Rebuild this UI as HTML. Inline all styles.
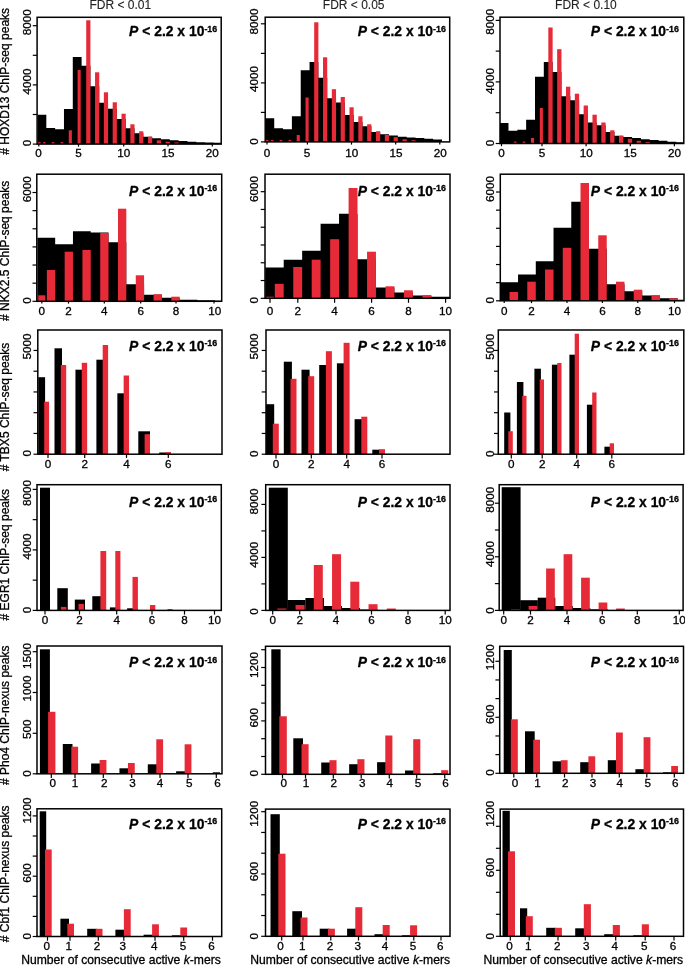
<!DOCTYPE html>
<html><head><meta charset="utf-8"><title>Figure</title>
<style>
html,body{margin:0;padding:0;background:#fff;}
body{width:685px;height:965px;overflow:hidden;}
svg{display:block;font-family:"Liberation Sans",sans-serif;}
text{fill:#000;stroke:#000;stroke-width:0.3px;}
text.ct{fill:#222;stroke:#222;stroke-width:0.1px;}
</style></head><body>
<svg width="685" height="965" viewBox="0 0 685 965">
<rect x="0" y="0" width="685" height="965" fill="#fff"/>
<clipPath id="A1"><rect x="37.10" y="17.30" width="184.10" height="126.80"/></clipPath>
<g clip-path="url(#A1)">
<path d="M37.50,144.10 L37.50,114.70 L46.32,114.70 L46.32,128.00 L55.14,128.00 L55.14,129.30 L63.96,129.30 L63.96,109.00 L72.78,109.00 L72.78,57.00 L81.60,57.00 L81.60,65.80 L90.42,65.80 L90.42,86.30 L99.24,86.30 L99.24,102.70 L108.06,102.70 L108.06,108.70 L116.88,108.70 L116.88,119.00 L125.70,119.00 L125.70,128.30 L134.52,128.30 L134.52,133.30 L143.34,133.30 L143.34,136.70 L152.16,136.70 L152.16,138.30 L160.98,138.30 L160.98,139.30 L169.80,139.30 L169.80,140.30 L178.62,140.30 L178.62,141.00 L187.44,141.00 L187.44,141.70 L196.26,141.70 L196.26,142.20 L205.08,142.20 L205.08,142.50 L213.90,142.50 L213.90,142.80 L222.72,142.80 L222.72,144.10 Z" fill="#000"/>
<rect x="38.10" y="142.10" width="2.50" height="2.00" fill="#d0283a"/>
<rect x="42.92" y="142.10" width="2.60" height="2.00" fill="#d0283a"/>
<rect x="51.74" y="142.10" width="2.60" height="2.00" fill="#d0283a"/>
<rect x="60.56" y="142.10" width="2.60" height="2.00" fill="#d0283a"/>
<rect x="68.78" y="130.30" width="3.10" height="13.80" fill="#e62a37"/>
<rect x="77.60" y="70.00" width="3.10" height="74.10" fill="#e62a37"/>
<rect x="86.22" y="20.30" width="4.20" height="123.80" fill="#e62a37"/>
<rect x="95.04" y="72.30" width="4.20" height="71.80" fill="#e62a37"/>
<rect x="103.86" y="92.30" width="4.20" height="51.80" fill="#e62a37"/>
<rect x="112.68" y="102.30" width="4.20" height="41.80" fill="#e62a37"/>
<rect x="121.50" y="113.70" width="4.20" height="30.40" fill="#e62a37"/>
<rect x="130.32" y="124.30" width="4.20" height="19.80" fill="#e62a37"/>
<rect x="139.14" y="131.30" width="4.20" height="12.80" fill="#e62a37"/>
<rect x="147.96" y="136.70" width="4.20" height="7.40" fill="#e62a37"/>
<rect x="156.78" y="140.30" width="4.20" height="3.80" fill="#e62a37"/>
<rect x="165.60" y="141.70" width="4.20" height="2.40" fill="#e62a37"/>
<rect x="174.42" y="142.50" width="4.20" height="1.60" fill="#e62a37"/>
</g>
<rect x="37.10" y="17.30" width="184.10" height="126.80" fill="none" stroke="#000" stroke-width="1.5"/>
<line x1="32.80" y1="144.10" x2="37.10" y2="144.10" stroke="#000" stroke-width="1.2"/>
<line x1="32.80" y1="114.50" x2="37.10" y2="114.50" stroke="#000" stroke-width="1.2"/>
<line x1="32.80" y1="84.90" x2="37.10" y2="84.90" stroke="#000" stroke-width="1.2"/>
<line x1="32.80" y1="55.30" x2="37.10" y2="55.30" stroke="#000" stroke-width="1.2"/>
<line x1="32.80" y1="25.70" x2="37.10" y2="25.70" stroke="#000" stroke-width="1.2"/>
<text transform="translate(31.00,22.20) rotate(-90)" font-size="11.7" text-anchor="middle" >8000</text>
<text transform="translate(31.00,81.50) rotate(-90)" font-size="11.7" text-anchor="middle" >4000</text>
<text transform="translate(31.00,143.00) rotate(-90)" font-size="11.7" text-anchor="middle" >0</text>
<line x1="38.80" y1="144.10" x2="38.80" y2="146.60" stroke="#000" stroke-width="1.2"/>
<line x1="78.50" y1="144.10" x2="78.50" y2="146.60" stroke="#000" stroke-width="1.2"/>
<line x1="123.70" y1="144.10" x2="123.70" y2="146.60" stroke="#000" stroke-width="1.2"/>
<line x1="168.00" y1="144.10" x2="168.00" y2="146.60" stroke="#000" stroke-width="1.2"/>
<line x1="212.30" y1="144.10" x2="212.30" y2="146.60" stroke="#000" stroke-width="1.2"/>
<text x="38.50" y="156.60" font-size="11.7" text-anchor="middle" >0</text>
<text x="78.50" y="156.60" font-size="11.7" text-anchor="middle" >5</text>
<text x="123.70" y="156.60" font-size="11.7" text-anchor="middle" >10</text>
<text x="168.00" y="156.60" font-size="11.7" text-anchor="middle" >15</text>
<text x="212.30" y="156.60" font-size="11.7" text-anchor="middle" >20</text>
<text x="129.10" y="36.10" font-size="13.9" font-weight="bold" text-anchor="start"><tspan font-style="italic">P</tspan> &lt; 2.2 x 10<tspan font-size="8.9" dy="-4.5">-16</tspan></text>
<clipPath id="A2"><rect x="265.20" y="17.20" width="184.50" height="124.70"/></clipPath>
<g clip-path="url(#A2)">
<path d="M265.40,141.90 L265.40,118.30 L274.23,118.30 L274.23,128.30 L283.06,128.30 L283.06,129.20 L291.89,129.20 L291.89,116.30 L300.72,116.30 L300.72,70.30 L309.55,70.30 L309.55,62.00 L318.38,62.00 L318.38,77.70 L327.21,77.70 L327.21,98.30 L336.04,98.30 L336.04,102.50 L344.87,102.50 L344.87,115.00 L353.70,115.00 L353.70,122.00 L362.53,122.00 L362.53,126.20 L371.36,126.20 L371.36,132.00 L380.19,132.00 L380.19,134.20 L389.02,134.20 L389.02,135.50 L397.85,135.50 L397.85,136.70 L406.68,136.70 L406.68,137.50 L415.51,137.50 L415.51,138.00 L424.34,138.00 L424.34,138.80 L433.17,138.80 L433.17,139.50 L442.00,139.50 L442.00,141.90 Z" fill="#000"/>
<rect x="266.00" y="139.90" width="2.50" height="2.00" fill="#d0283a"/>
<rect x="270.83" y="139.90" width="2.60" height="2.00" fill="#d0283a"/>
<rect x="279.66" y="139.90" width="2.60" height="2.00" fill="#d0283a"/>
<rect x="288.49" y="139.90" width="2.60" height="2.00" fill="#d0283a"/>
<rect x="296.72" y="135.00" width="3.10" height="6.90" fill="#e62a37"/>
<rect x="305.55" y="97.50" width="3.10" height="44.40" fill="#e62a37"/>
<rect x="314.18" y="22.30" width="4.20" height="119.60" fill="#e62a37"/>
<rect x="323.01" y="57.30" width="4.20" height="84.60" fill="#e62a37"/>
<rect x="331.84" y="89.20" width="4.20" height="52.70" fill="#e62a37"/>
<rect x="340.67" y="97.00" width="4.20" height="44.90" fill="#e62a37"/>
<rect x="349.50" y="107.30" width="4.20" height="34.60" fill="#e62a37"/>
<rect x="358.33" y="116.30" width="4.20" height="25.60" fill="#e62a37"/>
<rect x="367.16" y="124.30" width="4.20" height="17.60" fill="#e62a37"/>
<rect x="375.99" y="131.20" width="4.20" height="10.70" fill="#e62a37"/>
<rect x="384.82" y="135.00" width="4.20" height="6.90" fill="#e62a37"/>
<rect x="393.65" y="137.20" width="4.20" height="4.70" fill="#e62a37"/>
<rect x="402.48" y="139.30" width="4.20" height="2.60" fill="#e62a37"/>
<rect x="411.31" y="140.30" width="4.20" height="1.60" fill="#e62a37"/>
</g>
<rect x="265.20" y="17.20" width="184.50" height="124.70" fill="none" stroke="#000" stroke-width="1.5"/>
<line x1="260.90" y1="141.90" x2="265.20" y2="141.90" stroke="#000" stroke-width="1.2"/>
<line x1="260.90" y1="112.40" x2="265.20" y2="112.40" stroke="#000" stroke-width="1.2"/>
<line x1="260.90" y1="82.90" x2="265.20" y2="82.90" stroke="#000" stroke-width="1.2"/>
<line x1="260.90" y1="53.40" x2="265.20" y2="53.40" stroke="#000" stroke-width="1.2"/>
<line x1="260.90" y1="23.80" x2="265.20" y2="23.80" stroke="#000" stroke-width="1.2"/>
<text transform="translate(258.00,21.60) rotate(-90)" font-size="11.7" text-anchor="middle" >8000</text>
<text transform="translate(258.00,79.00) rotate(-90)" font-size="11.7" text-anchor="middle" >4000</text>
<text transform="translate(258.00,141.50) rotate(-90)" font-size="11.7" text-anchor="middle" >0</text>
<line x1="267.00" y1="141.90" x2="267.00" y2="144.60" stroke="#000" stroke-width="1.2"/>
<line x1="307.40" y1="141.90" x2="307.40" y2="144.60" stroke="#000" stroke-width="1.2"/>
<line x1="351.50" y1="141.90" x2="351.50" y2="144.60" stroke="#000" stroke-width="1.2"/>
<line x1="395.70" y1="141.90" x2="395.70" y2="144.60" stroke="#000" stroke-width="1.2"/>
<line x1="439.80" y1="141.90" x2="439.80" y2="144.60" stroke="#000" stroke-width="1.2"/>
<text x="267.00" y="156.60" font-size="11.7" text-anchor="middle" >0</text>
<text x="307.00" y="156.60" font-size="11.7" text-anchor="middle" >5</text>
<text x="351.80" y="156.60" font-size="11.7" text-anchor="middle" >10</text>
<text x="396.00" y="156.60" font-size="11.7" text-anchor="middle" >15</text>
<text x="440.30" y="156.60" font-size="11.7" text-anchor="middle" >20</text>
<text x="357.70" y="36.10" font-size="13.9" font-weight="bold" text-anchor="start"><tspan font-style="italic">P</tspan> &lt; 2.2 x 10<tspan font-size="8.9" dy="-4.5">-16</tspan></text>
<clipPath id="A3"><rect x="500.00" y="17.20" width="183.80" height="126.30"/></clipPath>
<g clip-path="url(#A3)">
<path d="M499.65,143.50 L499.65,123.00 L508.48,123.00 L508.48,130.80 L517.31,130.80 L517.31,129.70 L526.14,129.70 L526.14,119.70 L534.97,119.70 L534.97,76.70 L543.80,76.70 L543.80,62.00 L552.63,62.00 L552.63,72.00 L561.46,72.00 L561.46,96.30 L570.29,96.30 L570.29,100.30 L579.12,100.30 L579.12,114.20 L587.95,114.20 L587.95,122.50 L596.78,122.50 L596.78,125.30 L605.61,125.30 L605.61,132.00 L614.44,132.00 L614.44,135.80 L623.27,135.80 L623.27,137.00 L632.10,137.00 L632.10,138.00 L640.93,138.00 L640.93,139.20 L649.76,139.20 L649.76,140.00 L658.59,140.00 L658.59,140.80 L667.42,140.80 L667.42,141.70 L676.25,141.70 L676.25,142.30 L685.08,142.30 L685.08,143.50 Z" fill="#000"/>
<rect x="513.91" y="141.50" width="2.60" height="2.00" fill="#d0283a"/>
<rect x="522.74" y="141.50" width="2.60" height="2.00" fill="#d0283a"/>
<rect x="530.97" y="138.00" width="3.10" height="5.50" fill="#e62a37"/>
<rect x="539.80" y="108.00" width="3.10" height="35.50" fill="#e62a37"/>
<rect x="548.33" y="27.50" width="4.30" height="116.00" fill="#e62a37"/>
<rect x="557.16" y="49.20" width="4.30" height="94.30" fill="#e62a37"/>
<rect x="565.99" y="86.70" width="4.30" height="56.80" fill="#e62a37"/>
<rect x="574.82" y="93.70" width="4.30" height="49.80" fill="#e62a37"/>
<rect x="583.65" y="105.50" width="4.30" height="38.00" fill="#e62a37"/>
<rect x="592.48" y="114.70" width="4.30" height="28.80" fill="#e62a37"/>
<rect x="601.31" y="122.50" width="4.30" height="21.00" fill="#e62a37"/>
<rect x="610.14" y="130.30" width="4.30" height="13.20" fill="#e62a37"/>
<rect x="618.97" y="135.80" width="4.30" height="7.70" fill="#e62a37"/>
<rect x="627.80" y="138.80" width="4.30" height="4.70" fill="#e62a37"/>
<rect x="636.63" y="140.80" width="4.30" height="2.70" fill="#e62a37"/>
<rect x="645.46" y="142.00" width="4.30" height="1.50" fill="#e62a37"/>
</g>
<rect x="500.00" y="17.20" width="183.80" height="126.30" fill="none" stroke="#000" stroke-width="1.5"/>
<line x1="495.70" y1="143.50" x2="500.00" y2="143.50" stroke="#000" stroke-width="1.2"/>
<line x1="495.70" y1="112.70" x2="500.00" y2="112.70" stroke="#000" stroke-width="1.2"/>
<line x1="495.70" y1="81.90" x2="500.00" y2="81.90" stroke="#000" stroke-width="1.2"/>
<line x1="495.70" y1="51.10" x2="500.00" y2="51.10" stroke="#000" stroke-width="1.2"/>
<line x1="495.70" y1="20.40" x2="500.00" y2="20.40" stroke="#000" stroke-width="1.2"/>
<text transform="translate(493.80,21.80) rotate(-90)" font-size="11.7" text-anchor="middle" >8000</text>
<text transform="translate(493.80,81.10) rotate(-90)" font-size="11.7" text-anchor="middle" >4000</text>
<text transform="translate(493.80,142.90) rotate(-90)" font-size="11.7" text-anchor="middle" >0</text>
<line x1="501.50" y1="143.50" x2="501.50" y2="146.20" stroke="#000" stroke-width="1.2"/>
<line x1="542.00" y1="143.50" x2="542.00" y2="146.20" stroke="#000" stroke-width="1.2"/>
<line x1="586.10" y1="143.50" x2="586.10" y2="146.20" stroke="#000" stroke-width="1.2"/>
<line x1="630.30" y1="143.50" x2="630.30" y2="146.20" stroke="#000" stroke-width="1.2"/>
<line x1="674.40" y1="143.50" x2="674.40" y2="146.20" stroke="#000" stroke-width="1.2"/>
<text x="501.50" y="156.60" font-size="11.7" text-anchor="middle" >0</text>
<text x="542.00" y="156.60" font-size="11.7" text-anchor="middle" >5</text>
<text x="586.20" y="156.60" font-size="11.7" text-anchor="middle" >10</text>
<text x="630.30" y="156.60" font-size="11.7" text-anchor="middle" >15</text>
<text x="674.40" y="156.60" font-size="11.7" text-anchor="middle" >20</text>
<text x="590.80" y="36.10" font-size="13.9" font-weight="bold" text-anchor="start"><tspan font-style="italic">P</tspan> &lt; 2.2 x 10<tspan font-size="8.9" dy="-4.5">-16</tspan></text>
<text x="120.30" y="9.00" font-size="12.0" text-anchor="middle" class="ct">FDR &lt; 0.01</text>
<text x="353.70" y="9.00" font-size="12.0" text-anchor="middle" class="ct">FDR &lt; 0.05</text>
<text x="585.90" y="9.00" font-size="12.0" text-anchor="middle" class="ct">FDR &lt; 0.10</text>
<clipPath id="B1"><rect x="36.80" y="174.20" width="184.90" height="127.10"/></clipPath>
<g clip-path="url(#B1)">
<path d="M37.40,301.30 L37.40,237.80 L55.18,237.80 L55.18,244.20 L72.96,244.20 L72.96,231.20 L90.74,231.20 L90.74,232.50 L108.52,232.50 L108.52,242.20 L126.30,242.20 L126.30,284.30 L144.08,284.30 L144.08,294.70 L161.86,294.70 L161.86,297.80 L179.64,297.80 L179.64,299.70 L197.42,299.70 L197.42,300.30 L215.20,300.30 L215.20,300.80 L232.98,300.80 L232.98,301.30 Z" fill="#000"/>
<rect x="38.30" y="295.30" width="7.00" height="6.00" fill="#e62a37"/>
<rect x="46.88" y="270.00" width="8.30" height="31.30" fill="#e62a37"/>
<rect x="64.66" y="251.70" width="8.30" height="49.60" fill="#e62a37"/>
<rect x="82.44" y="250.00" width="8.30" height="51.30" fill="#e62a37"/>
<rect x="100.22" y="233.00" width="8.30" height="68.30" fill="#e62a37"/>
<rect x="118.00" y="208.70" width="8.30" height="92.60" fill="#e62a37"/>
<rect x="135.78" y="275.30" width="8.30" height="26.00" fill="#e62a37"/>
<rect x="153.56" y="294.20" width="8.30" height="7.10" fill="#e62a37"/>
<rect x="171.34" y="296.70" width="8.30" height="4.60" fill="#e62a37"/>
</g>
<rect x="36.80" y="174.20" width="184.90" height="127.10" fill="none" stroke="#000" stroke-width="1.5"/>
<line x1="32.50" y1="301.30" x2="36.80" y2="301.30" stroke="#000" stroke-width="1.2"/>
<line x1="32.50" y1="283.17" x2="36.80" y2="283.17" stroke="#000" stroke-width="1.2"/>
<line x1="32.50" y1="265.04" x2="36.80" y2="265.04" stroke="#000" stroke-width="1.2"/>
<line x1="32.50" y1="246.91" x2="36.80" y2="246.91" stroke="#000" stroke-width="1.2"/>
<line x1="32.50" y1="228.78" x2="36.80" y2="228.78" stroke="#000" stroke-width="1.2"/>
<line x1="32.50" y1="210.65" x2="36.80" y2="210.65" stroke="#000" stroke-width="1.2"/>
<line x1="32.50" y1="192.52" x2="36.80" y2="192.52" stroke="#000" stroke-width="1.2"/>
<text transform="translate(31.00,189.20) rotate(-90)" font-size="11.7" text-anchor="middle" >6000</text>
<text transform="translate(31.00,300.60) rotate(-90)" font-size="11.7" text-anchor="middle" >0</text>
<line x1="41.80" y1="301.30" x2="41.80" y2="303.60" stroke="#000" stroke-width="1.2"/>
<line x1="68.50" y1="301.30" x2="68.50" y2="303.60" stroke="#000" stroke-width="1.2"/>
<line x1="104.30" y1="301.30" x2="104.30" y2="303.60" stroke="#000" stroke-width="1.2"/>
<line x1="140.70" y1="301.30" x2="140.70" y2="303.60" stroke="#000" stroke-width="1.2"/>
<line x1="176.00" y1="301.30" x2="176.00" y2="303.60" stroke="#000" stroke-width="1.2"/>
<line x1="214.00" y1="301.30" x2="214.00" y2="303.60" stroke="#000" stroke-width="1.2"/>
<text x="41.80" y="315.20" font-size="11.7" text-anchor="middle" >0</text>
<text x="68.50" y="315.20" font-size="11.7" text-anchor="middle" >2</text>
<text x="104.30" y="315.20" font-size="11.7" text-anchor="middle" >4</text>
<text x="140.70" y="315.20" font-size="11.7" text-anchor="middle" >6</text>
<text x="176.00" y="315.20" font-size="11.7" text-anchor="middle" >8</text>
<text x="214.70" y="315.20" font-size="11.7" text-anchor="middle" >10</text>
<text x="129.10" y="195.60" font-size="13.9" font-weight="bold" text-anchor="start"><tspan font-style="italic">P</tspan> &lt; 2.2 x 10<tspan font-size="8.9" dy="-4.5">-16</tspan></text>
<clipPath id="B2"><rect x="265.00" y="174.20" width="185.00" height="124.10"/></clipPath>
<g clip-path="url(#B2)">
<path d="M265.25,298.30 L265.25,267.50 L283.70,267.50 L283.70,259.70 L302.15,259.70 L302.15,250.80 L320.60,250.80 L320.60,223.80 L339.05,223.80 L339.05,213.80 L357.50,213.80 L357.50,259.20 L375.95,259.20 L375.95,287.50 L394.40,287.50 L394.40,292.50 L412.85,292.50 L412.85,295.50 L431.30,295.50 L431.30,296.70 L449.75,296.70 L449.75,298.30 Z" fill="#000"/>
<rect x="266.30" y="296.70" width="7.50" height="1.60" fill="#e62a37"/>
<rect x="274.80" y="283.80" width="8.90" height="14.50" fill="#e62a37"/>
<rect x="293.25" y="267.00" width="8.90" height="31.30" fill="#e62a37"/>
<rect x="311.70" y="259.70" width="8.90" height="38.60" fill="#e62a37"/>
<rect x="330.15" y="239.20" width="8.90" height="59.10" fill="#e62a37"/>
<rect x="348.60" y="188.00" width="8.90" height="110.30" fill="#e62a37"/>
<rect x="367.05" y="251.70" width="8.90" height="46.60" fill="#e62a37"/>
<rect x="385.50" y="286.30" width="8.90" height="12.00" fill="#e62a37"/>
<rect x="403.95" y="290.30" width="8.90" height="8.00" fill="#e62a37"/>
<rect x="422.40" y="295.30" width="8.90" height="3.00" fill="#e62a37"/>
</g>
<rect x="265.00" y="174.20" width="185.00" height="124.10" fill="none" stroke="#000" stroke-width="1.5"/>
<line x1="260.70" y1="298.30" x2="265.00" y2="298.30" stroke="#000" stroke-width="1.2"/>
<line x1="260.70" y1="280.53" x2="265.00" y2="280.53" stroke="#000" stroke-width="1.2"/>
<line x1="260.70" y1="262.76" x2="265.00" y2="262.76" stroke="#000" stroke-width="1.2"/>
<line x1="260.70" y1="244.99" x2="265.00" y2="244.99" stroke="#000" stroke-width="1.2"/>
<line x1="260.70" y1="227.22" x2="265.00" y2="227.22" stroke="#000" stroke-width="1.2"/>
<line x1="260.70" y1="209.45" x2="265.00" y2="209.45" stroke="#000" stroke-width="1.2"/>
<line x1="260.70" y1="191.68" x2="265.00" y2="191.68" stroke="#000" stroke-width="1.2"/>
<text transform="translate(258.00,189.00) rotate(-90)" font-size="11.7" text-anchor="middle" >6000</text>
<text transform="translate(258.00,300.30) rotate(-90)" font-size="11.7" text-anchor="middle" >0</text>
<line x1="270.00" y1="298.30" x2="270.00" y2="302.80" stroke="#000" stroke-width="1.2"/>
<line x1="297.80" y1="298.30" x2="297.80" y2="302.80" stroke="#000" stroke-width="1.2"/>
<line x1="334.60" y1="298.30" x2="334.60" y2="302.80" stroke="#000" stroke-width="1.2"/>
<line x1="371.60" y1="298.30" x2="371.60" y2="302.80" stroke="#000" stroke-width="1.2"/>
<line x1="408.50" y1="298.30" x2="408.50" y2="302.80" stroke="#000" stroke-width="1.2"/>
<line x1="445.60" y1="298.30" x2="445.60" y2="302.80" stroke="#000" stroke-width="1.2"/>
<text x="270.00" y="315.20" font-size="11.7" text-anchor="middle" >0</text>
<text x="297.80" y="315.20" font-size="11.7" text-anchor="middle" >2</text>
<text x="334.60" y="315.20" font-size="11.7" text-anchor="middle" >4</text>
<text x="371.60" y="315.20" font-size="11.7" text-anchor="middle" >6</text>
<text x="408.50" y="315.20" font-size="11.7" text-anchor="middle" >8</text>
<text x="445.60" y="315.20" font-size="11.7" text-anchor="middle" >10</text>
<text x="357.70" y="195.60" font-size="13.9" font-weight="bold" text-anchor="start"><tspan font-style="italic">P</tspan> &lt; 2.2 x 10<tspan font-size="8.9" dy="-4.5">-16</tspan></text>
<clipPath id="B3"><rect x="500.30" y="174.20" width="183.70" height="126.60"/></clipPath>
<g clip-path="url(#B3)">
<path d="M500.30,300.80 L500.30,282.20 L518.04,282.20 L518.04,274.50 L535.78,274.50 L535.78,261.30 L553.52,261.30 L553.52,227.80 L571.26,227.80 L571.26,201.70 L589.00,201.70 L589.00,248.80 L606.74,248.80 L606.74,284.20 L624.48,284.20 L624.48,291.20 L642.22,291.20 L642.22,295.50 L659.96,295.50 L659.96,298.30 L677.70,298.30 L677.70,299.70 L695.44,299.70 L695.44,300.80 Z" fill="#000"/>
<rect x="509.54" y="292.00" width="8.50" height="8.80" fill="#e62a37"/>
<rect x="527.28" y="281.70" width="8.50" height="19.10" fill="#e62a37"/>
<rect x="545.02" y="269.50" width="8.50" height="31.30" fill="#e62a37"/>
<rect x="562.76" y="247.80" width="8.50" height="53.00" fill="#e62a37"/>
<rect x="580.50" y="183.00" width="8.50" height="117.80" fill="#e62a37"/>
<rect x="598.24" y="235.30" width="8.50" height="65.50" fill="#e62a37"/>
<rect x="615.98" y="281.70" width="8.50" height="19.10" fill="#e62a37"/>
<rect x="633.72" y="289.70" width="8.50" height="11.10" fill="#e62a37"/>
<rect x="651.46" y="295.30" width="8.50" height="5.50" fill="#e62a37"/>
<rect x="669.20" y="298.30" width="8.50" height="2.50" fill="#e62a37"/>
</g>
<rect x="500.30" y="174.20" width="183.70" height="126.60" fill="none" stroke="#000" stroke-width="1.5"/>
<line x1="496.00" y1="300.80" x2="500.30" y2="300.80" stroke="#000" stroke-width="1.2"/>
<line x1="496.00" y1="282.67" x2="500.30" y2="282.67" stroke="#000" stroke-width="1.2"/>
<line x1="496.00" y1="264.54" x2="500.30" y2="264.54" stroke="#000" stroke-width="1.2"/>
<line x1="496.00" y1="246.41" x2="500.30" y2="246.41" stroke="#000" stroke-width="1.2"/>
<line x1="496.00" y1="228.28" x2="500.30" y2="228.28" stroke="#000" stroke-width="1.2"/>
<line x1="496.00" y1="210.15" x2="500.30" y2="210.15" stroke="#000" stroke-width="1.2"/>
<line x1="496.00" y1="192.02" x2="500.30" y2="192.02" stroke="#000" stroke-width="1.2"/>
<text transform="translate(493.80,189.00) rotate(-90)" font-size="11.7" text-anchor="middle" >6000</text>
<text transform="translate(493.80,300.30) rotate(-90)" font-size="11.7" text-anchor="middle" >0</text>
<line x1="504.20" y1="300.80" x2="504.20" y2="303.10" stroke="#000" stroke-width="1.2"/>
<line x1="531.50" y1="300.80" x2="531.50" y2="303.10" stroke="#000" stroke-width="1.2"/>
<line x1="567.00" y1="300.80" x2="567.00" y2="303.10" stroke="#000" stroke-width="1.2"/>
<line x1="602.40" y1="300.80" x2="602.40" y2="303.10" stroke="#000" stroke-width="1.2"/>
<line x1="637.80" y1="300.80" x2="637.80" y2="303.10" stroke="#000" stroke-width="1.2"/>
<line x1="674.50" y1="300.80" x2="674.50" y2="303.10" stroke="#000" stroke-width="1.2"/>
<text x="504.20" y="315.20" font-size="11.7" text-anchor="middle" >0</text>
<text x="531.50" y="315.20" font-size="11.7" text-anchor="middle" >2</text>
<text x="567.00" y="315.20" font-size="11.7" text-anchor="middle" >4</text>
<text x="602.40" y="315.20" font-size="11.7" text-anchor="middle" >6</text>
<text x="637.80" y="315.20" font-size="11.7" text-anchor="middle" >8</text>
<text x="674.50" y="315.20" font-size="11.7" text-anchor="middle" >10</text>
<text x="590.80" y="195.60" font-size="13.9" font-weight="bold" text-anchor="start"><tspan font-style="italic">P</tspan> &lt; 2.2 x 10<tspan font-size="8.9" dy="-4.5">-16</tspan></text>
<clipPath id="C1"><rect x="37.80" y="330.00" width="184.20" height="124.20"/></clipPath>
<g clip-path="url(#C1)">
<rect x="38.30" y="377.20" width="6.80" height="77.00" fill="#000"/>
<rect x="54.50" y="348.30" width="7.50" height="105.90" fill="#000"/>
<rect x="75.45" y="369.70" width="7.50" height="84.50" fill="#000"/>
<rect x="96.40" y="359.70" width="7.50" height="94.50" fill="#000"/>
<rect x="117.35" y="393.30" width="7.50" height="60.90" fill="#000"/>
<rect x="138.30" y="431.30" width="11.70" height="22.90" fill="#000"/>
<rect x="159.25" y="452.50" width="11.70" height="1.70" fill="#000"/>
<rect x="44.20" y="401.70" width="4.90" height="52.50" fill="#e62a37"/>
<rect x="60.80" y="365.00" width="5.40" height="89.20" fill="#e62a37"/>
<rect x="81.75" y="362.80" width="5.40" height="91.40" fill="#e62a37"/>
<rect x="102.70" y="345.00" width="5.40" height="109.20" fill="#e62a37"/>
<rect x="123.65" y="375.50" width="5.40" height="78.70" fill="#e62a37"/>
<rect x="144.60" y="434.20" width="5.40" height="20.00" fill="#e62a37"/>
<rect x="165.55" y="452.20" width="5.40" height="2.00" fill="#e62a37"/>
</g>
<rect x="37.80" y="330.00" width="184.20" height="124.20" fill="none" stroke="#000" stroke-width="1.5"/>
<line x1="33.50" y1="454.20" x2="37.80" y2="454.20" stroke="#000" stroke-width="1.2"/>
<line x1="33.50" y1="433.45" x2="37.80" y2="433.45" stroke="#000" stroke-width="1.2"/>
<line x1="33.50" y1="412.70" x2="37.80" y2="412.70" stroke="#000" stroke-width="1.2"/>
<line x1="33.50" y1="391.95" x2="37.80" y2="391.95" stroke="#000" stroke-width="1.2"/>
<line x1="33.50" y1="371.20" x2="37.80" y2="371.20" stroke="#000" stroke-width="1.2"/>
<line x1="33.50" y1="350.45" x2="37.80" y2="350.45" stroke="#000" stroke-width="1.2"/>
<text transform="translate(31.00,346.40) rotate(-90)" font-size="11.7" text-anchor="middle" >5000</text>
<text transform="translate(31.00,453.30) rotate(-90)" font-size="11.7" text-anchor="middle" >0</text>
<line x1="48.00" y1="454.20" x2="48.00" y2="457.90" stroke="#000" stroke-width="1.2"/>
<line x1="84.70" y1="454.20" x2="84.70" y2="457.90" stroke="#000" stroke-width="1.2"/>
<line x1="126.50" y1="454.20" x2="126.50" y2="457.90" stroke="#000" stroke-width="1.2"/>
<line x1="168.30" y1="454.20" x2="168.30" y2="457.90" stroke="#000" stroke-width="1.2"/>
<text x="48.00" y="468.00" font-size="11.7" text-anchor="middle" >0</text>
<text x="84.70" y="468.00" font-size="11.7" text-anchor="middle" >2</text>
<text x="126.50" y="468.00" font-size="11.7" text-anchor="middle" >4</text>
<text x="168.30" y="468.00" font-size="11.7" text-anchor="middle" >6</text>
<text x="129.10" y="350.80" font-size="13.9" font-weight="bold" text-anchor="start"><tspan font-style="italic">P</tspan> &lt; 2.2 x 10<tspan font-size="8.9" dy="-4.5">-16</tspan></text>
<clipPath id="C2"><rect x="266.00" y="330.00" width="184.00" height="124.20"/></clipPath>
<g clip-path="url(#C2)">
<rect x="266.10" y="404.20" width="8.10" height="50.00" fill="#000"/>
<rect x="283.80" y="361.70" width="8.10" height="92.50" fill="#000"/>
<rect x="301.50" y="369.70" width="8.10" height="84.50" fill="#000"/>
<rect x="319.20" y="365.00" width="8.10" height="89.20" fill="#000"/>
<rect x="336.90" y="363.30" width="8.10" height="90.90" fill="#000"/>
<rect x="354.60" y="419.20" width="8.10" height="35.00" fill="#000"/>
<rect x="372.30" y="449.70" width="8.10" height="4.50" fill="#000"/>
<rect x="272.80" y="423.70" width="6.00" height="30.50" fill="#e62a37"/>
<rect x="290.50" y="378.80" width="6.00" height="75.40" fill="#e62a37"/>
<rect x="308.20" y="376.20" width="6.00" height="78.00" fill="#e62a37"/>
<rect x="325.90" y="351.20" width="6.00" height="103.00" fill="#e62a37"/>
<rect x="343.60" y="342.80" width="6.00" height="111.40" fill="#e62a37"/>
<rect x="361.30" y="416.70" width="6.00" height="37.50" fill="#e62a37"/>
<rect x="379.00" y="449.20" width="6.00" height="5.00" fill="#e62a37"/>
</g>
<rect x="266.00" y="330.00" width="184.00" height="124.20" fill="none" stroke="#000" stroke-width="1.5"/>
<line x1="261.70" y1="454.20" x2="266.00" y2="454.20" stroke="#000" stroke-width="1.2"/>
<line x1="261.70" y1="433.45" x2="266.00" y2="433.45" stroke="#000" stroke-width="1.2"/>
<line x1="261.70" y1="412.70" x2="266.00" y2="412.70" stroke="#000" stroke-width="1.2"/>
<line x1="261.70" y1="391.95" x2="266.00" y2="391.95" stroke="#000" stroke-width="1.2"/>
<line x1="261.70" y1="371.20" x2="266.00" y2="371.20" stroke="#000" stroke-width="1.2"/>
<line x1="261.70" y1="350.45" x2="266.00" y2="350.45" stroke="#000" stroke-width="1.2"/>
<text transform="translate(258.00,346.50) rotate(-90)" font-size="11.7" text-anchor="middle" >5000</text>
<text transform="translate(258.00,453.70) rotate(-90)" font-size="11.7" text-anchor="middle" >0</text>
<line x1="276.00" y1="454.20" x2="276.00" y2="458.40" stroke="#000" stroke-width="1.2"/>
<line x1="311.30" y1="454.20" x2="311.30" y2="458.40" stroke="#000" stroke-width="1.2"/>
<line x1="346.70" y1="454.20" x2="346.70" y2="458.40" stroke="#000" stroke-width="1.2"/>
<line x1="382.00" y1="454.20" x2="382.00" y2="458.40" stroke="#000" stroke-width="1.2"/>
<text x="276.00" y="468.00" font-size="11.7" text-anchor="middle" >0</text>
<text x="311.30" y="468.00" font-size="11.7" text-anchor="middle" >2</text>
<text x="346.70" y="468.00" font-size="11.7" text-anchor="middle" >4</text>
<text x="382.00" y="468.00" font-size="11.7" text-anchor="middle" >6</text>
<text x="357.70" y="350.80" font-size="13.9" font-weight="bold" text-anchor="start"><tspan font-style="italic">P</tspan> &lt; 2.2 x 10<tspan font-size="8.9" dy="-4.5">-16</tspan></text>
<clipPath id="C3"><rect x="498.30" y="330.00" width="185.50" height="124.20"/></clipPath>
<g clip-path="url(#C3)">
<rect x="504.20" y="412.50" width="6.20" height="41.70" fill="#000"/>
<rect x="516.90" y="382.00" width="6.50" height="72.20" fill="#000"/>
<rect x="534.40" y="368.70" width="6.50" height="85.50" fill="#000"/>
<rect x="551.90" y="364.70" width="6.50" height="89.50" fill="#000"/>
<rect x="569.40" y="354.70" width="6.50" height="99.50" fill="#000"/>
<rect x="586.90" y="404.70" width="6.50" height="49.50" fill="#000"/>
<rect x="604.40" y="446.70" width="6.50" height="7.50" fill="#000"/>
<rect x="508.30" y="431.20" width="4.50" height="23.00" fill="#e62a37"/>
<rect x="522.20" y="395.80" width="4.30" height="58.40" fill="#e62a37"/>
<rect x="539.70" y="379.50" width="4.30" height="74.70" fill="#e62a37"/>
<rect x="557.20" y="363.00" width="4.30" height="91.20" fill="#e62a37"/>
<rect x="574.70" y="333.70" width="4.30" height="120.50" fill="#e62a37"/>
<rect x="592.20" y="392.50" width="4.30" height="61.70" fill="#e62a37"/>
<rect x="609.70" y="443.30" width="4.30" height="10.90" fill="#e62a37"/>
</g>
<rect x="498.30" y="330.00" width="185.50" height="124.20" fill="none" stroke="#000" stroke-width="1.5"/>
<line x1="494.00" y1="454.20" x2="498.30" y2="454.20" stroke="#000" stroke-width="1.2"/>
<line x1="494.00" y1="433.45" x2="498.30" y2="433.45" stroke="#000" stroke-width="1.2"/>
<line x1="494.00" y1="412.70" x2="498.30" y2="412.70" stroke="#000" stroke-width="1.2"/>
<line x1="494.00" y1="391.95" x2="498.30" y2="391.95" stroke="#000" stroke-width="1.2"/>
<line x1="494.00" y1="371.20" x2="498.30" y2="371.20" stroke="#000" stroke-width="1.2"/>
<line x1="494.00" y1="350.45" x2="498.30" y2="350.45" stroke="#000" stroke-width="1.2"/>
<text transform="translate(494.00,346.80) rotate(-90)" font-size="11.7" text-anchor="middle" >5000</text>
<text transform="translate(494.00,453.70) rotate(-90)" font-size="11.7" text-anchor="middle" >0</text>
<line x1="511.30" y1="454.20" x2="511.30" y2="458.40" stroke="#000" stroke-width="1.2"/>
<line x1="542.20" y1="454.20" x2="542.20" y2="458.40" stroke="#000" stroke-width="1.2"/>
<line x1="576.70" y1="454.20" x2="576.70" y2="458.40" stroke="#000" stroke-width="1.2"/>
<line x1="611.80" y1="454.20" x2="611.80" y2="458.40" stroke="#000" stroke-width="1.2"/>
<text x="511.30" y="468.00" font-size="11.7" text-anchor="middle" >0</text>
<text x="542.20" y="468.00" font-size="11.7" text-anchor="middle" >2</text>
<text x="576.70" y="468.00" font-size="11.7" text-anchor="middle" >4</text>
<text x="611.80" y="468.00" font-size="11.7" text-anchor="middle" >6</text>
<text x="590.80" y="350.80" font-size="13.9" font-weight="bold" text-anchor="start"><tspan font-style="italic">P</tspan> &lt; 2.2 x 10<tspan font-size="8.9" dy="-4.5">-16</tspan></text>
<clipPath id="D1"><rect x="37.00" y="484.70" width="184.30" height="125.70"/></clipPath>
<g clip-path="url(#D1)">
<rect x="40.00" y="487.70" width="10.00" height="122.70" fill="#000"/>
<rect x="57.30" y="588.20" width="10.50" height="22.20" fill="#000"/>
<rect x="74.80" y="599.60" width="10.20" height="10.80" fill="#000"/>
<rect x="92.30" y="596.20" width="10.20" height="14.20" fill="#000"/>
<rect x="109.90" y="607.40" width="10.10" height="3.00" fill="#000"/>
<rect x="127.10" y="608.30" width="10.40" height="2.10" fill="#000"/>
<rect x="60.90" y="606.90" width="5.50" height="3.50" fill="#e62a37"/>
<rect x="78.50" y="603.90" width="5.40" height="6.50" fill="#e62a37"/>
<rect x="100.40" y="551.00" width="5.80" height="59.40" fill="#e62a37"/>
<rect x="115.30" y="551.00" width="5.10" height="59.40" fill="#e62a37"/>
<rect x="132.50" y="576.90" width="5.40" height="33.50" fill="#e62a37"/>
<rect x="150.00" y="605.00" width="5.30" height="5.40" fill="#e62a37"/>
<rect x="167.50" y="609.00" width="5.00" height="1.40" fill="#e62a37"/>
</g>
<rect x="37.00" y="484.70" width="184.30" height="125.70" fill="none" stroke="#000" stroke-width="1.5"/>
<line x1="32.70" y1="610.40" x2="37.00" y2="610.40" stroke="#000" stroke-width="1.2"/>
<line x1="32.70" y1="580.15" x2="37.00" y2="580.15" stroke="#000" stroke-width="1.2"/>
<line x1="32.70" y1="549.90" x2="37.00" y2="549.90" stroke="#000" stroke-width="1.2"/>
<line x1="32.70" y1="519.65" x2="37.00" y2="519.65" stroke="#000" stroke-width="1.2"/>
<line x1="32.70" y1="489.40" x2="37.00" y2="489.40" stroke="#000" stroke-width="1.2"/>
<text transform="translate(31.00,493.00) rotate(-90)" font-size="11.7" text-anchor="middle" >8000</text>
<text transform="translate(31.00,546.40) rotate(-90)" font-size="11.7" text-anchor="middle" >4000</text>
<text transform="translate(31.00,610.00) rotate(-90)" font-size="11.7" text-anchor="middle" >0</text>
<line x1="45.00" y1="610.40" x2="45.00" y2="614.60" stroke="#000" stroke-width="1.2"/>
<line x1="79.50" y1="610.40" x2="79.50" y2="614.60" stroke="#000" stroke-width="1.2"/>
<line x1="116.70" y1="610.40" x2="116.70" y2="614.60" stroke="#000" stroke-width="1.2"/>
<line x1="152.00" y1="610.40" x2="152.00" y2="614.60" stroke="#000" stroke-width="1.2"/>
<line x1="184.50" y1="610.40" x2="184.50" y2="614.60" stroke="#000" stroke-width="1.2"/>
<line x1="214.50" y1="610.40" x2="214.50" y2="614.60" stroke="#000" stroke-width="1.2"/>
<text x="45.00" y="624.30" font-size="11.7" text-anchor="middle" >0</text>
<text x="79.50" y="624.30" font-size="11.7" text-anchor="middle" >2</text>
<text x="116.70" y="624.30" font-size="11.7" text-anchor="middle" >4</text>
<text x="152.00" y="624.30" font-size="11.7" text-anchor="middle" >6</text>
<text x="184.50" y="624.30" font-size="11.7" text-anchor="middle" >8</text>
<text x="214.50" y="624.30" font-size="11.7" text-anchor="middle" >10</text>
<text x="129.10" y="506.50" font-size="13.9" font-weight="bold" text-anchor="start"><tspan font-style="italic">P</tspan> &lt; 2.2 x 10<tspan font-size="8.9" dy="-4.5">-16</tspan></text>
<clipPath id="D2"><rect x="265.70" y="484.70" width="184.30" height="125.70"/></clipPath>
<g clip-path="url(#D2)">
<rect x="268.80" y="487.70" width="19.00" height="122.70" fill="#000"/>
<rect x="287.40" y="600.00" width="18.10" height="10.40" fill="#000"/>
<rect x="305.40" y="598.00" width="18.60" height="12.40" fill="#000"/>
<rect x="323.90" y="606.00" width="18.10" height="4.40" fill="#000"/>
<rect x="341.90" y="608.00" width="18.10" height="2.40" fill="#000"/>
<rect x="359.90" y="609.50" width="18.10" height="0.90" fill="#000"/>
<rect x="277.30" y="608.50" width="9.00" height="1.90" fill="#e62a37"/>
<rect x="295.55" y="605.00" width="9.00" height="5.40" fill="#e62a37"/>
<rect x="313.80" y="565.00" width="9.00" height="45.40" fill="#e62a37"/>
<rect x="332.05" y="554.20" width="9.00" height="56.20" fill="#e62a37"/>
<rect x="350.30" y="581.70" width="9.00" height="28.70" fill="#e62a37"/>
<rect x="368.55" y="604.20" width="9.00" height="6.20" fill="#e62a37"/>
<rect x="386.80" y="608.50" width="9.00" height="1.90" fill="#e62a37"/>
</g>
<rect x="265.70" y="484.70" width="184.30" height="125.70" fill="none" stroke="#000" stroke-width="1.5"/>
<line x1="261.40" y1="610.40" x2="265.70" y2="610.40" stroke="#000" stroke-width="1.2"/>
<line x1="261.40" y1="583.90" x2="265.70" y2="583.90" stroke="#000" stroke-width="1.2"/>
<line x1="261.40" y1="557.40" x2="265.70" y2="557.40" stroke="#000" stroke-width="1.2"/>
<line x1="261.40" y1="530.90" x2="265.70" y2="530.90" stroke="#000" stroke-width="1.2"/>
<line x1="261.40" y1="504.40" x2="265.70" y2="504.40" stroke="#000" stroke-width="1.2"/>
<text transform="translate(258.00,501.50) rotate(-90)" font-size="11.7" text-anchor="middle" >8000</text>
<text transform="translate(258.00,554.70) rotate(-90)" font-size="11.7" text-anchor="middle" >4000</text>
<text transform="translate(258.00,611.50) rotate(-90)" font-size="11.7" text-anchor="middle" >0</text>
<line x1="272.70" y1="610.40" x2="272.70" y2="614.60" stroke="#000" stroke-width="1.2"/>
<line x1="299.70" y1="610.40" x2="299.70" y2="614.60" stroke="#000" stroke-width="1.2"/>
<line x1="336.00" y1="610.40" x2="336.00" y2="614.60" stroke="#000" stroke-width="1.2"/>
<line x1="371.50" y1="610.40" x2="371.50" y2="614.60" stroke="#000" stroke-width="1.2"/>
<line x1="408.00" y1="610.40" x2="408.00" y2="614.60" stroke="#000" stroke-width="1.2"/>
<line x1="445.20" y1="610.40" x2="445.20" y2="614.60" stroke="#000" stroke-width="1.2"/>
<text x="272.70" y="624.30" font-size="11.7" text-anchor="middle" >0</text>
<text x="299.70" y="624.30" font-size="11.7" text-anchor="middle" >2</text>
<text x="336.00" y="624.30" font-size="11.7" text-anchor="middle" >4</text>
<text x="371.50" y="624.30" font-size="11.7" text-anchor="middle" >6</text>
<text x="408.00" y="624.30" font-size="11.7" text-anchor="middle" >8</text>
<text x="445.20" y="624.30" font-size="11.7" text-anchor="middle" >10</text>
<text x="357.70" y="506.50" font-size="13.9" font-weight="bold" text-anchor="start"><tspan font-style="italic">P</tspan> &lt; 2.2 x 10<tspan font-size="8.9" dy="-4.5">-16</tspan></text>
<clipPath id="D3"><rect x="499.20" y="484.70" width="183.90" height="125.70"/></clipPath>
<g clip-path="url(#D3)">
<rect x="501.70" y="487.20" width="18.90" height="123.20" fill="#000"/>
<rect x="520.20" y="600.20" width="17.60" height="10.20" fill="#000"/>
<rect x="537.70" y="597.70" width="17.60" height="12.70" fill="#000"/>
<rect x="555.20" y="606.00" width="17.60" height="4.40" fill="#000"/>
<rect x="572.70" y="608.00" width="17.60" height="2.40" fill="#000"/>
<rect x="590.20" y="609.30" width="17.60" height="1.10" fill="#000"/>
<rect x="511.10" y="609.30" width="8.70" height="1.10" fill="#e62a37"/>
<rect x="528.60" y="606.00" width="8.70" height="4.40" fill="#e62a37"/>
<rect x="546.10" y="568.50" width="8.70" height="41.90" fill="#e62a37"/>
<rect x="563.60" y="554.20" width="8.70" height="56.20" fill="#e62a37"/>
<rect x="581.10" y="577.70" width="8.70" height="32.70" fill="#e62a37"/>
<rect x="598.60" y="602.50" width="8.70" height="7.90" fill="#e62a37"/>
<rect x="616.10" y="608.50" width="8.70" height="1.90" fill="#e62a37"/>
</g>
<rect x="499.20" y="484.70" width="183.90" height="125.70" fill="none" stroke="#000" stroke-width="1.5"/>
<line x1="494.90" y1="610.40" x2="499.20" y2="610.40" stroke="#000" stroke-width="1.2"/>
<line x1="494.90" y1="583.60" x2="499.20" y2="583.60" stroke="#000" stroke-width="1.2"/>
<line x1="494.90" y1="556.80" x2="499.20" y2="556.80" stroke="#000" stroke-width="1.2"/>
<line x1="494.90" y1="530.00" x2="499.20" y2="530.00" stroke="#000" stroke-width="1.2"/>
<line x1="494.90" y1="503.20" x2="499.20" y2="503.20" stroke="#000" stroke-width="1.2"/>
<text transform="translate(494.00,499.80) rotate(-90)" font-size="11.7" text-anchor="middle" >8000</text>
<text transform="translate(494.00,554.00) rotate(-90)" font-size="11.7" text-anchor="middle" >4000</text>
<text transform="translate(494.00,610.40) rotate(-90)" font-size="11.7" text-anchor="middle" >0</text>
<line x1="503.70" y1="610.40" x2="503.70" y2="614.60" stroke="#000" stroke-width="1.2"/>
<line x1="530.50" y1="610.40" x2="530.50" y2="614.60" stroke="#000" stroke-width="1.2"/>
<line x1="567.00" y1="610.40" x2="567.00" y2="614.60" stroke="#000" stroke-width="1.2"/>
<line x1="602.30" y1="610.40" x2="602.30" y2="614.60" stroke="#000" stroke-width="1.2"/>
<line x1="637.30" y1="610.40" x2="637.30" y2="614.60" stroke="#000" stroke-width="1.2"/>
<line x1="679.30" y1="610.40" x2="679.30" y2="614.60" stroke="#000" stroke-width="1.2"/>
<text x="503.70" y="624.30" font-size="11.7" text-anchor="middle" >0</text>
<text x="530.50" y="624.30" font-size="11.7" text-anchor="middle" >2</text>
<text x="567.00" y="624.30" font-size="11.7" text-anchor="middle" >4</text>
<text x="602.30" y="624.30" font-size="11.7" text-anchor="middle" >6</text>
<text x="637.30" y="624.30" font-size="11.7" text-anchor="middle" >8</text>
<text x="679.30" y="624.30" font-size="11.7" text-anchor="middle" >10</text>
<text x="590.80" y="506.50" font-size="13.9" font-weight="bold" text-anchor="start"><tspan font-style="italic">P</tspan> &lt; 2.2 x 10<tspan font-size="8.9" dy="-4.5">-16</tspan></text>
<clipPath id="E1"><rect x="37.00" y="646.00" width="185.00" height="127.80"/></clipPath>
<g clip-path="url(#E1)">
<rect x="39.90" y="649.30" width="10.00" height="124.50" fill="#000"/>
<rect x="62.80" y="744.00" width="9.70" height="29.80" fill="#000"/>
<rect x="91.13" y="763.50" width="9.70" height="10.30" fill="#000"/>
<rect x="119.46" y="768.30" width="9.70" height="5.50" fill="#000"/>
<rect x="147.79" y="764.30" width="9.70" height="9.50" fill="#000"/>
<rect x="176.12" y="771.30" width="9.70" height="2.50" fill="#000"/>
<rect x="212.80" y="772.30" width="7.20" height="1.50" fill="#000"/>
<rect x="48.10" y="711.80" width="7.30" height="62.00" fill="#e62a37"/>
<rect x="71.30" y="746.70" width="6.80" height="27.10" fill="#e62a37"/>
<rect x="99.63" y="760.00" width="6.80" height="13.80" fill="#e62a37"/>
<rect x="127.96" y="763.00" width="6.80" height="10.80" fill="#e62a37"/>
<rect x="156.29" y="739.30" width="6.80" height="34.50" fill="#e62a37"/>
<rect x="184.62" y="744.30" width="6.80" height="29.50" fill="#e62a37"/>
</g>
<rect x="37.00" y="646.00" width="185.00" height="127.80" fill="none" stroke="#000" stroke-width="1.5"/>
<line x1="32.70" y1="773.80" x2="37.00" y2="773.80" stroke="#000" stroke-width="1.2"/>
<line x1="32.70" y1="733.30" x2="37.00" y2="733.30" stroke="#000" stroke-width="1.2"/>
<line x1="32.70" y1="692.50" x2="37.00" y2="692.50" stroke="#000" stroke-width="1.2"/>
<line x1="32.70" y1="651.70" x2="37.00" y2="651.70" stroke="#000" stroke-width="1.2"/>
<text transform="translate(31.00,656.10) rotate(-90)" font-size="11.7" text-anchor="middle" >1500</text>
<text transform="translate(31.00,688.60) rotate(-90)" font-size="11.7" text-anchor="middle" >1000</text>
<text transform="translate(31.00,729.30) rotate(-90)" font-size="11.7" text-anchor="middle" >500</text>
<text transform="translate(31.00,773.40) rotate(-90)" font-size="11.7" text-anchor="middle" >0</text>
<line x1="51.30" y1="773.80" x2="51.30" y2="778.00" stroke="#000" stroke-width="1.2"/>
<line x1="75.00" y1="773.80" x2="75.00" y2="778.00" stroke="#000" stroke-width="1.2"/>
<line x1="103.30" y1="773.80" x2="103.30" y2="778.00" stroke="#000" stroke-width="1.2"/>
<line x1="131.70" y1="773.80" x2="131.70" y2="778.00" stroke="#000" stroke-width="1.2"/>
<line x1="160.00" y1="773.80" x2="160.00" y2="778.00" stroke="#000" stroke-width="1.2"/>
<line x1="188.00" y1="773.80" x2="188.00" y2="778.00" stroke="#000" stroke-width="1.2"/>
<line x1="216.30" y1="773.80" x2="216.30" y2="778.00" stroke="#000" stroke-width="1.2"/>
<text x="52.80" y="787.20" font-size="11.7" text-anchor="middle" >0</text>
<text x="75.00" y="787.20" font-size="11.7" text-anchor="middle" >1</text>
<text x="104.20" y="787.20" font-size="11.7" text-anchor="middle" >2</text>
<text x="132.50" y="787.20" font-size="11.7" text-anchor="middle" >3</text>
<text x="160.00" y="787.20" font-size="11.7" text-anchor="middle" >4</text>
<text x="189.20" y="787.20" font-size="11.7" text-anchor="middle" >5</text>
<text x="217.50" y="787.20" font-size="11.7" text-anchor="middle" >6</text>
<text x="129.10" y="667.20" font-size="13.9" font-weight="bold" text-anchor="start"><tspan font-style="italic">P</tspan> &lt; 2.2 x 10<tspan font-size="8.9" dy="-4.5">-16</tspan></text>
<clipPath id="E2"><rect x="265.50" y="646.30" width="184.50" height="128.00"/></clipPath>
<g clip-path="url(#E2)">
<rect x="271.30" y="649.30" width="9.30" height="125.00" fill="#000"/>
<rect x="293.30" y="738.30" width="9.70" height="36.00" fill="#000"/>
<rect x="321.23" y="762.50" width="9.70" height="11.80" fill="#000"/>
<rect x="349.16" y="764.20" width="9.70" height="10.10" fill="#000"/>
<rect x="377.09" y="762.20" width="9.70" height="12.10" fill="#000"/>
<rect x="405.02" y="770.50" width="9.70" height="3.80" fill="#000"/>
<rect x="432.95" y="773.30" width="9.70" height="1.00" fill="#000"/>
<rect x="279.30" y="716.30" width="7.50" height="58.00" fill="#e62a37"/>
<rect x="301.50" y="744.20" width="7.10" height="30.10" fill="#e62a37"/>
<rect x="329.43" y="760.20" width="7.10" height="14.10" fill="#e62a37"/>
<rect x="357.36" y="759.20" width="7.10" height="15.10" fill="#e62a37"/>
<rect x="385.29" y="735.50" width="7.10" height="38.80" fill="#e62a37"/>
<rect x="413.22" y="739.20" width="7.10" height="35.10" fill="#e62a37"/>
<rect x="441.15" y="770.20" width="7.10" height="4.10" fill="#e62a37"/>
</g>
<rect x="265.50" y="646.30" width="184.50" height="128.00" fill="none" stroke="#000" stroke-width="1.5"/>
<line x1="261.20" y1="774.30" x2="265.50" y2="774.30" stroke="#000" stroke-width="1.2"/>
<line x1="261.20" y1="756.50" x2="265.50" y2="756.50" stroke="#000" stroke-width="1.2"/>
<line x1="261.20" y1="738.70" x2="265.50" y2="738.70" stroke="#000" stroke-width="1.2"/>
<line x1="261.20" y1="720.90" x2="265.50" y2="720.90" stroke="#000" stroke-width="1.2"/>
<line x1="261.20" y1="703.10" x2="265.50" y2="703.10" stroke="#000" stroke-width="1.2"/>
<line x1="261.20" y1="685.30" x2="265.50" y2="685.30" stroke="#000" stroke-width="1.2"/>
<line x1="261.20" y1="667.50" x2="265.50" y2="667.50" stroke="#000" stroke-width="1.2"/>
<line x1="261.20" y1="649.70" x2="265.50" y2="649.70" stroke="#000" stroke-width="1.2"/>
<text transform="translate(258.00,665.00) rotate(-90)" font-size="11.7" text-anchor="middle" >1200</text>
<text transform="translate(258.00,717.80) rotate(-90)" font-size="11.7" text-anchor="middle" >600</text>
<text transform="translate(258.00,773.30) rotate(-90)" font-size="11.7" text-anchor="middle" >0</text>
<line x1="282.50" y1="774.30" x2="282.50" y2="778.50" stroke="#000" stroke-width="1.2"/>
<line x1="305.50" y1="774.30" x2="305.50" y2="778.50" stroke="#000" stroke-width="1.2"/>
<line x1="333.30" y1="774.30" x2="333.30" y2="778.50" stroke="#000" stroke-width="1.2"/>
<line x1="361.20" y1="774.30" x2="361.20" y2="778.50" stroke="#000" stroke-width="1.2"/>
<line x1="389.30" y1="774.30" x2="389.30" y2="778.50" stroke="#000" stroke-width="1.2"/>
<line x1="416.70" y1="774.30" x2="416.70" y2="778.50" stroke="#000" stroke-width="1.2"/>
<line x1="444.70" y1="774.30" x2="444.70" y2="778.50" stroke="#000" stroke-width="1.2"/>
<text x="283.80" y="787.20" font-size="11.7" text-anchor="middle" >0</text>
<text x="306.00" y="787.20" font-size="11.7" text-anchor="middle" >1</text>
<text x="333.80" y="787.20" font-size="11.7" text-anchor="middle" >2</text>
<text x="362.20" y="787.20" font-size="11.7" text-anchor="middle" >3</text>
<text x="389.70" y="787.20" font-size="11.7" text-anchor="middle" >4</text>
<text x="418.00" y="787.20" font-size="11.7" text-anchor="middle" >5</text>
<text x="445.50" y="787.20" font-size="11.7" text-anchor="middle" >6</text>
<text x="357.70" y="667.20" font-size="13.9" font-weight="bold" text-anchor="start"><tspan font-style="italic">P</tspan> &lt; 2.2 x 10<tspan font-size="8.9" dy="-4.5">-16</tspan></text>
<clipPath id="E3"><rect x="499.70" y="646.30" width="183.80" height="127.00"/></clipPath>
<g clip-path="url(#E3)">
<rect x="503.70" y="650.00" width="8.10" height="123.30" fill="#000"/>
<rect x="525.00" y="731.30" width="9.70" height="42.00" fill="#000"/>
<rect x="552.60" y="761.30" width="9.70" height="12.00" fill="#000"/>
<rect x="580.20" y="762.20" width="9.70" height="11.10" fill="#000"/>
<rect x="607.80" y="760.20" width="9.70" height="13.10" fill="#000"/>
<rect x="635.40" y="769.20" width="9.70" height="4.10" fill="#000"/>
<rect x="663.00" y="772.30" width="9.70" height="1.00" fill="#000"/>
<rect x="510.80" y="719.30" width="7.00" height="54.00" fill="#e62a37"/>
<rect x="533.20" y="739.70" width="6.80" height="33.60" fill="#e62a37"/>
<rect x="560.80" y="760.20" width="6.80" height="13.10" fill="#e62a37"/>
<rect x="588.40" y="756.30" width="6.80" height="17.00" fill="#e62a37"/>
<rect x="616.00" y="732.50" width="6.80" height="40.80" fill="#e62a37"/>
<rect x="643.60" y="737.20" width="6.80" height="36.10" fill="#e62a37"/>
<rect x="671.20" y="766.00" width="6.80" height="7.30" fill="#e62a37"/>
</g>
<rect x="499.70" y="646.30" width="183.80" height="127.00" fill="none" stroke="#000" stroke-width="1.5"/>
<line x1="495.40" y1="773.30" x2="499.70" y2="773.30" stroke="#000" stroke-width="1.2"/>
<line x1="495.40" y1="754.63" x2="499.70" y2="754.63" stroke="#000" stroke-width="1.2"/>
<line x1="495.40" y1="735.96" x2="499.70" y2="735.96" stroke="#000" stroke-width="1.2"/>
<line x1="495.40" y1="717.29" x2="499.70" y2="717.29" stroke="#000" stroke-width="1.2"/>
<line x1="495.40" y1="698.62" x2="499.70" y2="698.62" stroke="#000" stroke-width="1.2"/>
<line x1="495.40" y1="679.95" x2="499.70" y2="679.95" stroke="#000" stroke-width="1.2"/>
<line x1="495.40" y1="661.28" x2="499.70" y2="661.28" stroke="#000" stroke-width="1.2"/>
<text transform="translate(494.00,657.30) rotate(-90)" font-size="11.7" text-anchor="middle" >1200</text>
<text transform="translate(494.00,714.30) rotate(-90)" font-size="11.7" text-anchor="middle" >600</text>
<text transform="translate(494.00,772.60) rotate(-90)" font-size="11.7" text-anchor="middle" >0</text>
<line x1="513.80" y1="773.30" x2="513.80" y2="777.50" stroke="#000" stroke-width="1.2"/>
<line x1="536.70" y1="773.30" x2="536.70" y2="777.50" stroke="#000" stroke-width="1.2"/>
<line x1="564.50" y1="773.30" x2="564.50" y2="777.50" stroke="#000" stroke-width="1.2"/>
<line x1="592.00" y1="773.30" x2="592.00" y2="777.50" stroke="#000" stroke-width="1.2"/>
<line x1="619.30" y1="773.30" x2="619.30" y2="777.50" stroke="#000" stroke-width="1.2"/>
<line x1="646.80" y1="773.30" x2="646.80" y2="777.50" stroke="#000" stroke-width="1.2"/>
<line x1="674.30" y1="773.30" x2="674.30" y2="777.50" stroke="#000" stroke-width="1.2"/>
<text x="515.00" y="787.20" font-size="11.7" text-anchor="middle" >0</text>
<text x="537.50" y="787.20" font-size="11.7" text-anchor="middle" >1</text>
<text x="565.30" y="787.20" font-size="11.7" text-anchor="middle" >2</text>
<text x="593.00" y="787.20" font-size="11.7" text-anchor="middle" >3</text>
<text x="619.80" y="787.20" font-size="11.7" text-anchor="middle" >4</text>
<text x="647.70" y="787.20" font-size="11.7" text-anchor="middle" >5</text>
<text x="675.20" y="787.20" font-size="11.7" text-anchor="middle" >6</text>
<text x="590.80" y="667.20" font-size="13.9" font-weight="bold" text-anchor="start"><tspan font-style="italic">P</tspan> &lt; 2.2 x 10<tspan font-size="8.9" dy="-4.5">-16</tspan></text>
<clipPath id="F1"><rect x="37.00" y="808.80" width="184.70" height="127.70"/></clipPath>
<g clip-path="url(#F1)">
<rect x="39.70" y="811.30" width="6.50" height="125.20" fill="#000"/>
<rect x="60.40" y="918.70" width="8.60" height="17.80" fill="#000"/>
<rect x="87.20" y="928.80" width="9.70" height="7.70" fill="#000"/>
<rect x="115.40" y="929.70" width="9.70" height="6.80" fill="#000"/>
<rect x="143.60" y="934.70" width="9.70" height="1.80" fill="#000"/>
<rect x="171.80" y="935.30" width="9.70" height="1.20" fill="#000"/>
<rect x="45.00" y="849.50" width="6.70" height="87.00" fill="#e62a37"/>
<rect x="67.30" y="923.70" width="6.70" height="12.80" fill="#e62a37"/>
<rect x="95.70" y="928.80" width="6.80" height="7.70" fill="#e62a37"/>
<rect x="123.90" y="909.20" width="6.80" height="27.30" fill="#e62a37"/>
<rect x="152.10" y="924.30" width="6.80" height="12.20" fill="#e62a37"/>
<rect x="180.30" y="927.50" width="6.80" height="9.00" fill="#e62a37"/>
</g>
<rect x="37.00" y="808.80" width="184.70" height="127.70" fill="none" stroke="#000" stroke-width="1.5"/>
<line x1="32.70" y1="936.50" x2="37.00" y2="936.50" stroke="#000" stroke-width="1.2"/>
<line x1="32.70" y1="916.40" x2="37.00" y2="916.40" stroke="#000" stroke-width="1.2"/>
<line x1="32.70" y1="896.30" x2="37.00" y2="896.30" stroke="#000" stroke-width="1.2"/>
<line x1="32.70" y1="876.20" x2="37.00" y2="876.20" stroke="#000" stroke-width="1.2"/>
<line x1="32.70" y1="856.10" x2="37.00" y2="856.10" stroke="#000" stroke-width="1.2"/>
<line x1="32.70" y1="836.00" x2="37.00" y2="836.00" stroke="#000" stroke-width="1.2"/>
<line x1="32.70" y1="815.90" x2="37.00" y2="815.90" stroke="#000" stroke-width="1.2"/>
<text transform="translate(31.00,810.50) rotate(-90)" font-size="11.7" text-anchor="middle" >1200</text>
<text transform="translate(31.00,873.00) rotate(-90)" font-size="11.7" text-anchor="middle" >600</text>
<text transform="translate(31.00,936.20) rotate(-90)" font-size="11.7" text-anchor="middle" >0</text>
<line x1="47.50" y1="936.50" x2="47.50" y2="940.70" stroke="#000" stroke-width="1.2"/>
<line x1="70.00" y1="936.50" x2="70.00" y2="940.70" stroke="#000" stroke-width="1.2"/>
<line x1="98.30" y1="936.50" x2="98.30" y2="940.70" stroke="#000" stroke-width="1.2"/>
<line x1="123.80" y1="936.50" x2="123.80" y2="940.70" stroke="#000" stroke-width="1.2"/>
<line x1="155.00" y1="936.50" x2="155.00" y2="940.70" stroke="#000" stroke-width="1.2"/>
<line x1="183.70" y1="936.50" x2="183.70" y2="940.70" stroke="#000" stroke-width="1.2"/>
<line x1="212.50" y1="936.50" x2="212.50" y2="940.70" stroke="#000" stroke-width="1.2"/>
<text x="46.70" y="949.50" font-size="11.7" text-anchor="middle" >0</text>
<text x="68.80" y="949.50" font-size="11.7" text-anchor="middle" >1</text>
<text x="97.00" y="949.50" font-size="11.7" text-anchor="middle" >2</text>
<text x="122.80" y="949.50" font-size="11.7" text-anchor="middle" >3</text>
<text x="154.20" y="949.50" font-size="11.7" text-anchor="middle" >4</text>
<text x="183.00" y="949.50" font-size="11.7" text-anchor="middle" >5</text>
<text x="211.50" y="949.50" font-size="11.7" text-anchor="middle" >6</text>
<text x="129.10" y="828.90" font-size="13.9" font-weight="bold" text-anchor="start"><tspan font-style="italic">P</tspan> &lt; 2.2 x 10<tspan font-size="8.9" dy="-4.5">-16</tspan></text>
<clipPath id="F2"><rect x="265.50" y="809.10" width="184.50" height="127.20"/></clipPath>
<g clip-path="url(#F2)">
<rect x="270.50" y="814.20" width="9.30" height="122.10" fill="#000"/>
<rect x="292.30" y="911.20" width="9.70" height="25.10" fill="#000"/>
<rect x="319.70" y="928.70" width="9.70" height="7.60" fill="#000"/>
<rect x="347.10" y="928.70" width="9.70" height="7.60" fill="#000"/>
<rect x="374.50" y="934.20" width="9.70" height="2.10" fill="#000"/>
<rect x="401.90" y="935.30" width="9.70" height="1.00" fill="#000"/>
<rect x="278.30" y="853.70" width="7.20" height="82.60" fill="#e62a37"/>
<rect x="300.50" y="917.50" width="7.00" height="18.80" fill="#e62a37"/>
<rect x="327.90" y="928.70" width="7.00" height="7.60" fill="#e62a37"/>
<rect x="355.30" y="907.20" width="7.00" height="29.10" fill="#e62a37"/>
<rect x="382.70" y="925.00" width="7.00" height="11.30" fill="#e62a37"/>
<rect x="410.10" y="925.30" width="7.00" height="11.00" fill="#e62a37"/>
</g>
<rect x="265.50" y="809.10" width="184.50" height="127.20" fill="none" stroke="#000" stroke-width="1.5"/>
<line x1="261.20" y1="936.30" x2="265.50" y2="936.30" stroke="#000" stroke-width="1.2"/>
<line x1="261.20" y1="915.53" x2="265.50" y2="915.53" stroke="#000" stroke-width="1.2"/>
<line x1="261.20" y1="894.76" x2="265.50" y2="894.76" stroke="#000" stroke-width="1.2"/>
<line x1="261.20" y1="873.99" x2="265.50" y2="873.99" stroke="#000" stroke-width="1.2"/>
<line x1="261.20" y1="853.22" x2="265.50" y2="853.22" stroke="#000" stroke-width="1.2"/>
<line x1="261.20" y1="832.45" x2="265.50" y2="832.45" stroke="#000" stroke-width="1.2"/>
<line x1="261.20" y1="811.68" x2="265.50" y2="811.68" stroke="#000" stroke-width="1.2"/>
<text transform="translate(258.00,813.80) rotate(-90)" font-size="11.7" text-anchor="middle" >1200</text>
<text transform="translate(258.00,871.40) rotate(-90)" font-size="11.7" text-anchor="middle" >600</text>
<text transform="translate(258.00,936.20) rotate(-90)" font-size="11.7" text-anchor="middle" >0</text>
<line x1="281.70" y1="936.30" x2="281.70" y2="940.50" stroke="#000" stroke-width="1.2"/>
<line x1="303.00" y1="936.30" x2="303.00" y2="940.50" stroke="#000" stroke-width="1.2"/>
<line x1="330.80" y1="936.30" x2="330.80" y2="940.50" stroke="#000" stroke-width="1.2"/>
<line x1="358.50" y1="936.30" x2="358.50" y2="940.50" stroke="#000" stroke-width="1.2"/>
<line x1="386.30" y1="936.30" x2="386.30" y2="940.50" stroke="#000" stroke-width="1.2"/>
<line x1="413.80" y1="936.30" x2="413.80" y2="940.50" stroke="#000" stroke-width="1.2"/>
<line x1="441.00" y1="936.30" x2="441.00" y2="940.50" stroke="#000" stroke-width="1.2"/>
<text x="280.50" y="949.50" font-size="11.7" text-anchor="middle" >0</text>
<text x="302.20" y="949.50" font-size="11.7" text-anchor="middle" >1</text>
<text x="330.00" y="949.50" font-size="11.7" text-anchor="middle" >2</text>
<text x="357.70" y="949.50" font-size="11.7" text-anchor="middle" >3</text>
<text x="385.00" y="949.50" font-size="11.7" text-anchor="middle" >4</text>
<text x="413.00" y="949.50" font-size="11.7" text-anchor="middle" >5</text>
<text x="440.20" y="949.50" font-size="11.7" text-anchor="middle" >6</text>
<text x="357.70" y="828.90" font-size="13.9" font-weight="bold" text-anchor="start"><tspan font-style="italic">P</tspan> &lt; 2.2 x 10<tspan font-size="8.9" dy="-4.5">-16</tspan></text>
<clipPath id="F3"><rect x="500.20" y="809.10" width="183.30" height="127.20"/></clipPath>
<g clip-path="url(#F3)">
<rect x="502.50" y="810.80" width="7.30" height="125.50" fill="#000"/>
<rect x="520.00" y="908.30" width="7.20" height="28.00" fill="#000"/>
<rect x="546.20" y="927.80" width="9.70" height="8.50" fill="#000"/>
<rect x="575.20" y="928.30" width="9.70" height="8.00" fill="#000"/>
<rect x="604.20" y="934.20" width="9.70" height="2.10" fill="#000"/>
<rect x="633.20" y="935.30" width="9.70" height="1.00" fill="#000"/>
<rect x="508.00" y="851.30" width="7.00" height="85.00" fill="#e62a37"/>
<rect x="525.80" y="916.20" width="7.00" height="20.10" fill="#e62a37"/>
<rect x="554.80" y="927.80" width="7.10" height="8.50" fill="#e62a37"/>
<rect x="583.80" y="904.20" width="7.10" height="32.10" fill="#e62a37"/>
<rect x="612.80" y="925.00" width="7.10" height="11.30" fill="#e62a37"/>
<rect x="641.80" y="924.30" width="7.10" height="12.00" fill="#e62a37"/>
</g>
<rect x="500.20" y="809.10" width="183.30" height="127.20" fill="none" stroke="#000" stroke-width="1.5"/>
<line x1="495.90" y1="936.30" x2="500.20" y2="936.30" stroke="#000" stroke-width="1.2"/>
<line x1="495.90" y1="914.30" x2="500.20" y2="914.30" stroke="#000" stroke-width="1.2"/>
<line x1="495.90" y1="892.30" x2="500.20" y2="892.30" stroke="#000" stroke-width="1.2"/>
<line x1="495.90" y1="870.30" x2="500.20" y2="870.30" stroke="#000" stroke-width="1.2"/>
<line x1="495.90" y1="848.30" x2="500.20" y2="848.30" stroke="#000" stroke-width="1.2"/>
<line x1="495.90" y1="826.30" x2="500.20" y2="826.30" stroke="#000" stroke-width="1.2"/>
<text transform="translate(494.00,813.80) rotate(-90)" font-size="11.7" text-anchor="middle" >1200</text>
<text transform="translate(494.00,867.60) rotate(-90)" font-size="11.7" text-anchor="middle" >600</text>
<text transform="translate(494.00,936.20) rotate(-90)" font-size="11.7" text-anchor="middle" >0</text>
<line x1="510.30" y1="936.30" x2="510.30" y2="940.50" stroke="#000" stroke-width="1.2"/>
<line x1="529.20" y1="936.30" x2="529.20" y2="940.50" stroke="#000" stroke-width="1.2"/>
<line x1="558.00" y1="936.30" x2="558.00" y2="940.50" stroke="#000" stroke-width="1.2"/>
<line x1="585.30" y1="936.30" x2="585.30" y2="940.50" stroke="#000" stroke-width="1.2"/>
<line x1="615.70" y1="936.30" x2="615.70" y2="940.50" stroke="#000" stroke-width="1.2"/>
<line x1="645.20" y1="936.30" x2="645.20" y2="940.50" stroke="#000" stroke-width="1.2"/>
<line x1="674.00" y1="936.30" x2="674.00" y2="940.50" stroke="#000" stroke-width="1.2"/>
<text x="509.50" y="949.50" font-size="11.7" text-anchor="middle" >0</text>
<text x="528.30" y="949.50" font-size="11.7" text-anchor="middle" >1</text>
<text x="557.20" y="949.50" font-size="11.7" text-anchor="middle" >2</text>
<text x="586.20" y="949.50" font-size="11.7" text-anchor="middle" >3</text>
<text x="614.70" y="949.50" font-size="11.7" text-anchor="middle" >4</text>
<text x="644.30" y="949.50" font-size="11.7" text-anchor="middle" >5</text>
<text x="673.00" y="949.50" font-size="11.7" text-anchor="middle" >6</text>
<text x="590.80" y="828.90" font-size="13.9" font-weight="bold" text-anchor="start"><tspan font-style="italic">P</tspan> &lt; 2.2 x 10<tspan font-size="8.9" dy="-4.5">-16</tspan></text>
<text x="121" y="964.0" font-size="12.15" text-anchor="middle">Number of consecutive active <tspan font-style="italic">k</tspan>-mers</text>
<text x="350.2" y="964.0" font-size="12.15" text-anchor="middle">Number of consecutive active <tspan font-style="italic">k</tspan>-mers</text>
<text x="583.3" y="964.0" font-size="12.15" text-anchor="middle">Number of consecutive active <tspan font-style="italic">k</tspan>-mers</text>
<text transform="translate(9.20,81.30) rotate(-90)" font-size="12.0" text-anchor="middle" ># HOXD13 ChIP-seq peaks</text>
<text transform="translate(9.20,250.90) rotate(-90)" font-size="12.0" text-anchor="middle" ># NKX2.5 ChIP-seq peaks</text>
<text transform="translate(9.20,407.00) rotate(-90)" font-size="12.0" text-anchor="middle" ># TBX5 ChIP-seq peaks</text>
<text transform="translate(9.20,554.70) rotate(-90)" font-size="12.0" text-anchor="middle" ># EGR1 ChIP-seq peaks</text>
<text transform="translate(9.20,715.30) rotate(-90)" font-size="12.0" text-anchor="middle" ># Pho4 ChIP-nexus peaks</text>
<text transform="translate(9.20,873.80) rotate(-90)" font-size="12.0" text-anchor="middle" ># Cbf1 ChIP-nexus peaks</text>
</svg>
</body></html>
